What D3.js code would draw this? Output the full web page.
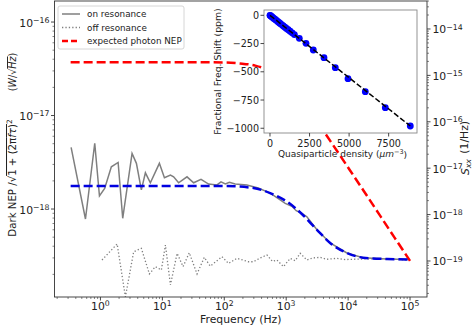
<!DOCTYPE html>
<html><head><meta charset="utf-8">
<script src="https://cdn.jsdelivr.net/npm/d3@7"></script>
<style>body{margin:0;background:#fff} text{font-family:"DejaVu Sans",sans-serif;fill:#222}</style>
</head><body><svg id="c" width="474" height="327"></svg>
<script>
// ---- data ----
const onFreq = [0.336,0.573,0.809,0.964,1.17,1.50,1.93,2.29,3.24,3.81,4.58,5.32,6.40,8.95,10.8,13.5,15.2,18.3,25.0,32.0,42.1,55.8,76.2,88.5,104,121,150,232,353,552,800,964,1236,1450,1791,2158,3162,5129,9550,17378,42658,93325];
const onNEP = [4.57e-18,7.82e-19,5.05e-18,1.38e-18,1.66e-18,2.83e-18,3.15e-18,7.96e-19,3.94e-18,3.08e-18,1.60e-18,2.44e-18,1.91e-18,3.08e-18,2.16e-18,2.31e-18,2.21e-18,1.91e-18,2.21e-18,1.91e-18,2.08e-18,1.85e-18,1.81e-18,1.95e-18,1.85e-18,1.93e-18,1.85e-18,1.81e-18,1.68e-18,1.48e-18,1.25e-18,1.15e-18,1.07e-18,9.6e-19,9.0e-19,8.28e-19,5.96e-19,4.33e-19,3.39e-19,3.02e-19,2.92e-19,2.88e-19];
const offFreq = [1.06,1.86,2.53,3.44,4.58,6.17,7.71,9.64,11.2,13.5,17.3,21.6,27.2,36.3,47.5,59.4,91.8,117,160,247,297,380,489,600,708,904,1161,1400,1683,2158,2700,3532,4500,6577,9000,12162,22646,42073,92896];
const offNEP = [2.85e-19,4.23e-19,1.15e-19,3.49e-19,3.80e-19,2.02e-19,2.42e-19,2.23e-19,4.12e-19,1.54e-19,3.36e-19,2.42e-19,3.41e-19,2.02e-19,3.04e-19,2.45e-19,3.09e-19,2.62e-19,2.97e-19,2.73e-19,2.73e-19,3.0e-19,3.22e-19,2.75e-19,2.85e-19,2.42e-19,2.97e-19,2.8e-19,3.36e-19,2.85e-19,3.0e-19,3.04e-19,2.9e-19,2.97e-19,2.88e-19,2.90e-19,2.94e-19,2.92e-19,2.85e-19];
const fitFreq = [0.33,1,10,100,295,550,1047,1862,3162,5129,9550,17378,42658,100000];
const fitNEP = [1.76e-18,1.76e-18,1.76e-18,1.76e-18,1.68e-18,1.48e-18,1.19e-18,8.63e-19,5.96e-19,4.33e-19,3.39e-19,3.02e-19,2.92e-19,2.88e-19];
const photonFreq = [0.33,10,100,178,316,562,1000,1778,3162,5623,10000,17783,31623,56234,100000];
const photonNEP = [3.72e-17,3.72e-17,3.70e-17,3.61e-17,3.42e-17,2.97e-17,2.23e-17,1.45e-17,8.57e-18,4.91e-18,2.78e-18,1.57e-18,8.81e-19,4.95e-19,2.79e-19];
const qpDensity = [0,20,60,110,160,220,280,350,420,500,580,660,750,840,940,1040,1150,1270,1400,1540,1852,2276,2737,3413,4128,4930,6024,7288,8868];
const freqShift = [0,-2,-7,-12,-18,-25,-31,-39,-47,-56,-65,-74,-84,-94,-105,-116,-128,-141,-155,-171,-204,-248,-307,-375,-464,-561,-676,-818,-980];
const fitDensity = [0,8868];
const fitShift = [0,-980];
const xTickExps = [0,1,2,3,4,5];
const leftTickExps = [-16,-17,-18];
const rightTickExps = [-14,-15,-16,-17,-18,-19];
const insetXTicks = [0,2500,5000,7500];
const insetYTicks = [0,-250,-500,-750,-1000];
const legendLabels = ["on resonance","off resonance","expected photon NEP"];

// ---- layout ----
const svg = d3.select("#c");
const L=54.5, R=427, T=1, B=297;
const x = d3.scaleLog().domain([Math.pow(10,-0.742),Math.pow(10,5.274)]).range([L,R]);
const yL = d3.scaleLog().domain([Math.pow(10,-18.941),Math.pow(10,-15.775)]).range([B,T]);
const yR = d3.scaleLog().domain([Math.pow(10,-19.776),Math.pow(10,-13.397)]).range([B,T]);
const axisCol="#333";

svg.append("defs").append("clipPath").attr("id","clip").append("rect")
  .attr("x",L).attr("y",T).attr("width",R-L).attr("height",B-T);

function minorVals(scale){
  const [a,b]=scale.domain(); const out=[];
  for(let d=Math.floor(Math.log10(a)); d<=Math.ceil(Math.log10(b)); d++)
    for(let k=2;k<=9;k++){const v=k*Math.pow(10,d); if(v>=a&&v<=b) out.push(v);}
  return out;
}
function pow10(t,e){
  t.text("10");
  t.append("tspan").attr("dy","-0.5em").attr("font-size","0.72em").text(e<0?"\u2212"+(-e):String(e));
}

const g = svg.append("g");
const lineGen = (ys)=>d3.line().x(d=>x(d[0])).y(d=>ys(d[1]));
const plot = g.append("g").attr("clip-path","url(#clip)");
plot.append("path").datum(d3.zip(onFreq,onNEP)).attr("d",lineGen(yL))
  .attr("fill","none").attr("stroke","#7f7f7f").attr("stroke-width",1.5);
plot.append("path").datum(d3.zip(offFreq,offNEP)).attr("d",lineGen(yL))
  .attr("fill","none").attr("stroke","#7f7f7f").attr("stroke-width",1.3).attr("stroke-dasharray","1.3,2.1");
plot.append("path").datum(d3.zip(photonFreq,photonNEP)).attr("d",lineGen(yL).curve(d3.curveMonotoneX))
  .attr("fill","none").attr("stroke","#ff0000").attr("stroke-width",2.5).attr("stroke-dasharray","9,4");
plot.append("path").datum(d3.zip(fitFreq,fitNEP)).attr("d",lineGen(yL).curve(d3.curveMonotoneX))
  .attr("fill","none").attr("stroke","#0000e0").attr("stroke-width",2.5).attr("stroke-dasharray","9,4");

g.append("rect").attr("x",L).attr("y",T).attr("width",R-L).attr("height",B-T)
  .attr("fill","none").attr("stroke",axisCol).attr("stroke-width",0.9);

xTickExps.forEach(e=>{
  const px=x(Math.pow(10,e));
  g.append("line").attr("x1",px).attr("x2",px).attr("y1",B).attr("y2",B+3.5).attr("stroke",axisCol).attr("stroke-width",0.9);
  const t=g.append("text").attr("x",px).attr("y",310).attr("text-anchor","middle").attr("font-size",10.8);
  pow10(t,e);
});
minorVals(x).forEach(v=>{const px=x(v);
  g.append("line").attr("x1",px).attr("x2",px).attr("y1",B).attr("y2",B+2).attr("stroke",axisCol).attr("stroke-width",0.6);});
leftTickExps.forEach(e=>{
  const py=yL(Math.pow(10,e));
  g.append("line").attr("x1",L-3.5).attr("x2",L).attr("y1",py).attr("y2",py).attr("stroke",axisCol).attr("stroke-width",0.9);
  const t=g.append("text").attr("x",L-5).attr("y",py+4.5).attr("text-anchor","end").attr("font-size",10.8);
  pow10(t,e);
});
minorVals(yL).forEach(v=>{const py=yL(v);
  g.append("line").attr("x1",L-2).attr("x2",L).attr("y1",py).attr("y2",py).attr("stroke",axisCol).attr("stroke-width",0.6);});
rightTickExps.forEach(e=>{
  const py=yR(Math.pow(10,e));
  g.append("line").attr("x1",R).attr("x2",R+3.5).attr("y1",py).attr("y2",py).attr("stroke",axisCol).attr("stroke-width",0.9);
  const t=g.append("text").attr("x",R+5.5).attr("y",py+4.5).attr("text-anchor","start").attr("font-size",10.8);
  pow10(t,e);
});
minorVals(yR).forEach(v=>{const py=yR(v);
  g.append("line").attr("x1",R).attr("x2",R+2).attr("y1",py).attr("y2",py).attr("stroke",axisCol).attr("stroke-width",0.6);});

g.append("text").attr("x",(L+R)/2).attr("y",323).attr("text-anchor","middle").attr("font-size",10.8).text("Frequency (Hz)");
const rl=g.append("text").attr("transform","translate(469,148) rotate(-90)").attr("text-anchor","middle").attr("font-size",10.8);
rl.append("tspan").attr("font-style","italic").text("S");
rl.append("tspan").attr("font-style","italic").attr("font-size","0.72em").attr("dy","0.3em").text("xx");
rl.append("tspan").attr("dy","-0.3em").text("\u2002(1/Hz)");
const ll=g.append("text").attr("transform","translate(16,178) rotate(-90)").attr("text-anchor","middle").attr("font-size",10.2);
ll.append("tspan").text("Dark NEP /\u221A");
ll.append("tspan").attr("text-decoration","overline").text("1 + (2\u03C0");
ll.append("tspan").attr("font-style","italic").attr("text-decoration","overline").text("f\u03C4");
ll.append("tspan").attr("text-decoration","overline").text(")");
ll.append("tspan").attr("dy","-0.5em").attr("font-size","0.72em").text("2");
const ll2=g.append("text").attr("transform","translate(16,72) rotate(-90)").attr("text-anchor","middle").attr("font-size",9.6);
ll2.append("tspan").text("(");
ll2.append("tspan").attr("font-style","italic").text("W");
ll2.append("tspan").text("/\u221A");
ll2.append("tspan").attr("font-style","italic").attr("text-decoration","overline").text("Hz");
ll2.append("tspan").text(")");

const lg=g.append("g");
lg.append("rect").attr("x",58).attr("y",6).attr("width",126).attr("height",43).attr("rx",2)
  .attr("fill","#fff").attr("fill-opacity",0.85).attr("stroke","#ccc").attr("stroke-width",0.8);
const lstyles=[{c:"#7f7f7f",w:1.5,d:null},{c:"#7f7f7f",w:1.3,d:"1.3,2.1"},{c:"#ff0000",w:2.5,d:"6,3"}];
legendLabels.forEach((lab,i)=>{
  const yy=14+i*13.5;
  const s=lstyles[i];
  const ln=lg.append("line").attr("x1",62).attr("x2",80).attr("y1",yy).attr("y2",yy).attr("stroke",s.c).attr("stroke-width",s.w);
  if(s.d) ln.attr("stroke-dasharray",s.d);
  lg.append("text").attr("x",87).attr("y",yy+3.3).attr("font-size",8.8).text(lab);
});

// ---- inset ----
const iL=264, iR=417, iT=10, iB=133;
const ix=d3.scaleLinear().domain([-379,9292]).range([iL,iR]);
const iy=d3.scaleLinear().domain([-1042,47]).range([iB,iT]);
const ig=svg.append("g");
ig.append("rect").attr("x",iL).attr("y",iT).attr("width",iR-iL).attr("height",iB-iT).attr("fill","#fff");
ig.selectAll("circle").data(d3.zip(qpDensity,freqShift)).enter().append("circle")
  .attr("cx",d=>ix(d[0])).attr("cy",d=>iy(d[1])).attr("r",3.4).attr("fill","#0000ff");
ig.append("path").datum(d3.zip(fitDensity,fitShift)).attr("d",d3.line().x(d=>ix(d[0])).y(d=>iy(d[1])))
  .attr("fill","none").attr("stroke","#000").attr("stroke-width",1.5).attr("stroke-dasharray","5.5,2.4");
ig.append("rect").attr("x",iL).attr("y",iT).attr("width",iR-iL).attr("height",iB-iT)
  .attr("fill","none").attr("stroke","#888").attr("stroke-width",0.9);
insetXTicks.forEach(v=>{
  ig.append("line").attr("x1",ix(v)).attr("x2",ix(v)).attr("y1",iB).attr("y2",iB+3.5).attr("stroke",axisCol).attr("stroke-width",0.9);
  ig.append("text").attr("x",ix(v)).attr("y",146.5).attr("text-anchor","middle").attr("font-size",9.6).text(String(v));
});
insetYTicks.forEach(v=>{
  ig.append("line").attr("x1",iL-3.5).attr("x2",iL).attr("y1",iy(v)).attr("y2",iy(v)).attr("stroke",axisCol).attr("stroke-width",0.9);
  ig.append("text").attr("x",iL-5).attr("y",iy(v)+3.5).attr("text-anchor","end").attr("font-size",9.6).text(v<0?"\u2212"+(-v):String(v));
});
const ixl=ig.append("text").attr("x",(iL+iR)/2+2).attr("y",157).attr("text-anchor","middle").attr("font-size",9);
ixl.append("tspan").text("Quasiparticle density (");
ixl.append("tspan").attr("font-style","italic").text("\u03BCm");
ixl.append("tspan").attr("dy","-0.45em").attr("font-size","0.72em").text("\u22123");
ixl.append("tspan").attr("dy","0.45em").text(")");
ig.append("text").attr("transform",`translate(221,${(iT+iB)/2}) rotate(-90)`).attr("text-anchor","middle")
  .attr("font-size",9.3).text("Fractional Freq. Shift (ppm)");
</script></body></html>
